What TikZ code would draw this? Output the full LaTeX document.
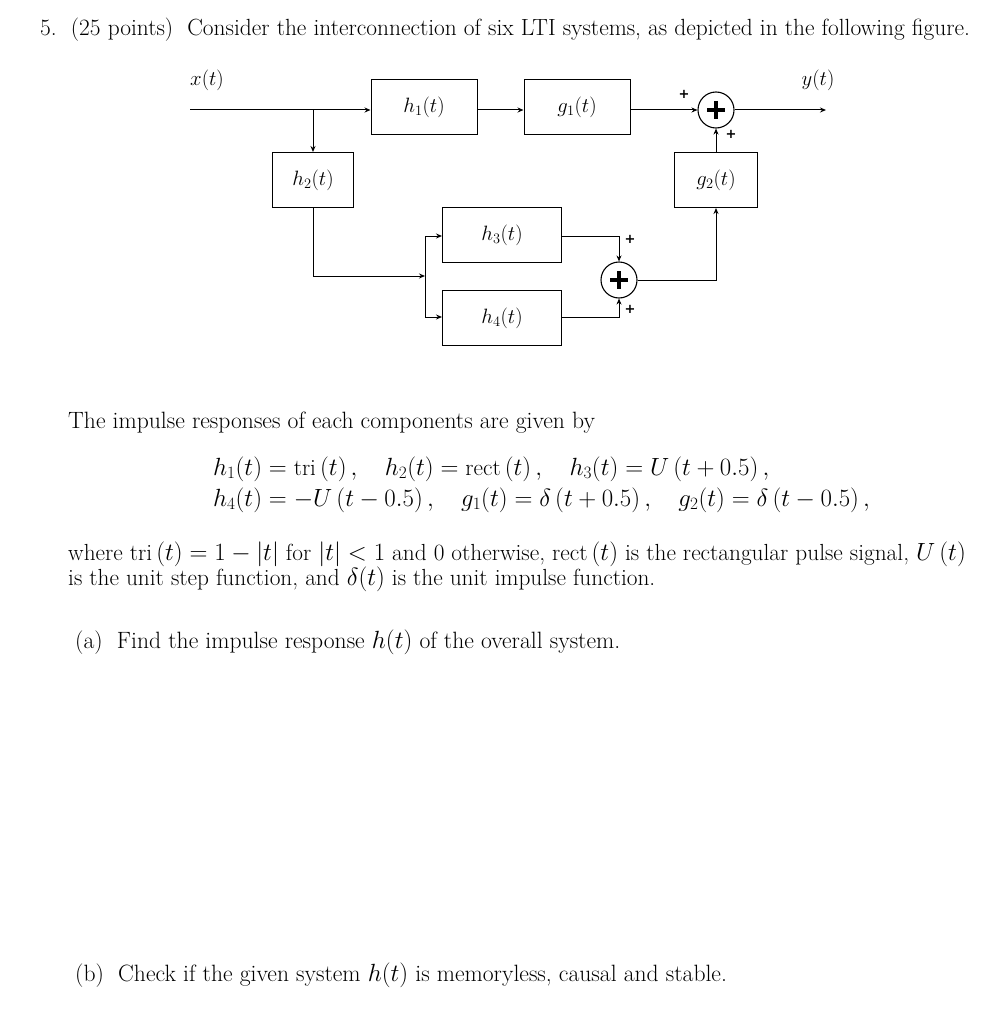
\documentclass[tikz,border=0pt]{standalone}
\usepackage{fontspec}
\newfontfamily\pfont{DejaVu Sans}
\usetikzlibrary{arrows.meta}
\begin{document}
\begin{tikzpicture}[x=1pt,y=-1pt,
  blk/.style={draw,line width=1pt,minimum width=#1,minimum height=55pt,inner sep=0pt,font=\fontsize{20}{22}\selectfont},
  blk/.default=106pt,
  sumc/.style={draw,circle,line width=1.1pt,minimum size=36pt,inner sep=0pt},
  arr/.style={line width=1pt,-{Stealth[length=6pt,width=5pt]}},
  lab/.style={font=\fontsize{20}{22}\selectfont,inner sep=0pt},
  pl/.style={font=\pfont\fontsize{13}{13}\bfseries\selectfont,inner sep=0pt},
  txt/.style={anchor=base west,inner sep=0pt,font=\fontsize{23.6}{28}\selectfont}]
\useasboundingbox (0,0) rectangle (990,1022);
% title
\node[txt,font=\fontsize{23.4}{28}\selectfont] (title) at (40,36) {5.\ \ (25 points)\ \ Consider the interconnection of six LTI systems, as depicted in the following figure.};
% blocks
\node[blk] (h1) at (424,107) {$h_1(t)$};
\node[blk] (g1) at (577,107) {$g_1(t)$};
\node[blk=81pt] (h2) at (313,180) {$h_2(t)$};
\node[blk=83pt] (g2) at (716,180) {$g_2(t)$};
\node[blk=119pt] (h3) at (502,235) {$h_3(t)$};
\node[blk=119pt] (h4) at (502,318) {$h_4(t)$};
\node[sumc] (s1) at (716,110) {};
\node[sumc] (s2) at (619,280) {};
\draw[line width=3.6pt] (s1.center)+(-9,0) -- +(9,0) (s1.center)+(0,-9) -- +(0,9);
\draw[line width=3.6pt] (s2.center)+(-9,0) -- +(9,0) (s2.center)+(0,-9) -- +(0,9);
% labels
\node[lab] (xl) at (207,80) {$x(t)$};
\node[lab] (yl) at (818,80) {$y(t)$};
\node[pl] (p1) at (684,94) {+};
\node[pl] (p2) at (731,134) {+};
\node[pl] (p3) at (630,239) {+};
\node[pl] (p4) at (630,309) {+};
% wires
\coordinate (in) at (190,110);
\coordinate (b1) at (313,110);
\coordinate (out) at (826,110);
\coordinate (c1) at (313,276);
\coordinate (c2) at (425,276);
\draw[arr] (in) -- (h1.west |- in);
\draw[arr] (b1) -- (h2.north);
\draw[arr] (h1.east |- in) -- (g1.west |- in);
\draw[arr] (g1.east |- in) -- (s1.west);
\draw[arr] (s1.east) -- (out);
\draw[arr] (g2.north) -- (s1.south);
\draw[arr] (h2.south) -- (c1) -- (c2);
\draw[arr] (c2) |- (h3.west |- 0,236);
\draw[arr] (c2) |- (h4.west |- 0,317);
\draw[arr] (h3.east |- 0,236) -| (s2.north);
\draw[arr] (h4.east |- 0,317) -| (s2.south);
\draw[arr] (s2.east) -| (g2.south);
% text
\node[txt] (t1) at (68,428) {The impulse responses of each components are given by};
\node[txt,font=\fontsize{23.2}{28}\selectfont] (eq1) at (213,475) {$h_1(t)=\mathrm{tri}\,(t)\,,\quad h_2(t)=\mathrm{rect}\,(t)\,,\quad h_3(t)=U\,(t+0.5)\,,$};
\node[txt,font=\fontsize{23.2}{28}\selectfont] (eq2) at (213,506) {$h_4(t)=-U\,(t-0.5)\,,\quad g_1(t)=\delta\,(t+0.5)\,,\quad g_2(t)=\delta\,(t-0.5)\,,$};
\node[txt,font=\fontsize{23.3}{28}\selectfont] (t2) at (68,560) {where $\mathrm{tri}\,(t)=1-|t|$ for $|t|<1$ and 0 otherwise, $\mathrm{rect}\,(t)$ is the rectangular pulse signal, $U\,(t)$};
\node[txt,font=\fontsize{23.3}{28}\selectfont] (t3) at (68,585) {is the unit step function, and $\delta(t)$ is the unit impulse function.};
\node[txt] (qa) at (75,648) {(a)\ \ Find the impulse response $h(t)$ of the overall system.};
\node[txt] (qb) at (75,981) {(b)\ \ Check if the given system $h(t)$ is memoryless, causal and stable.};
\end{tikzpicture}
\end{document}
